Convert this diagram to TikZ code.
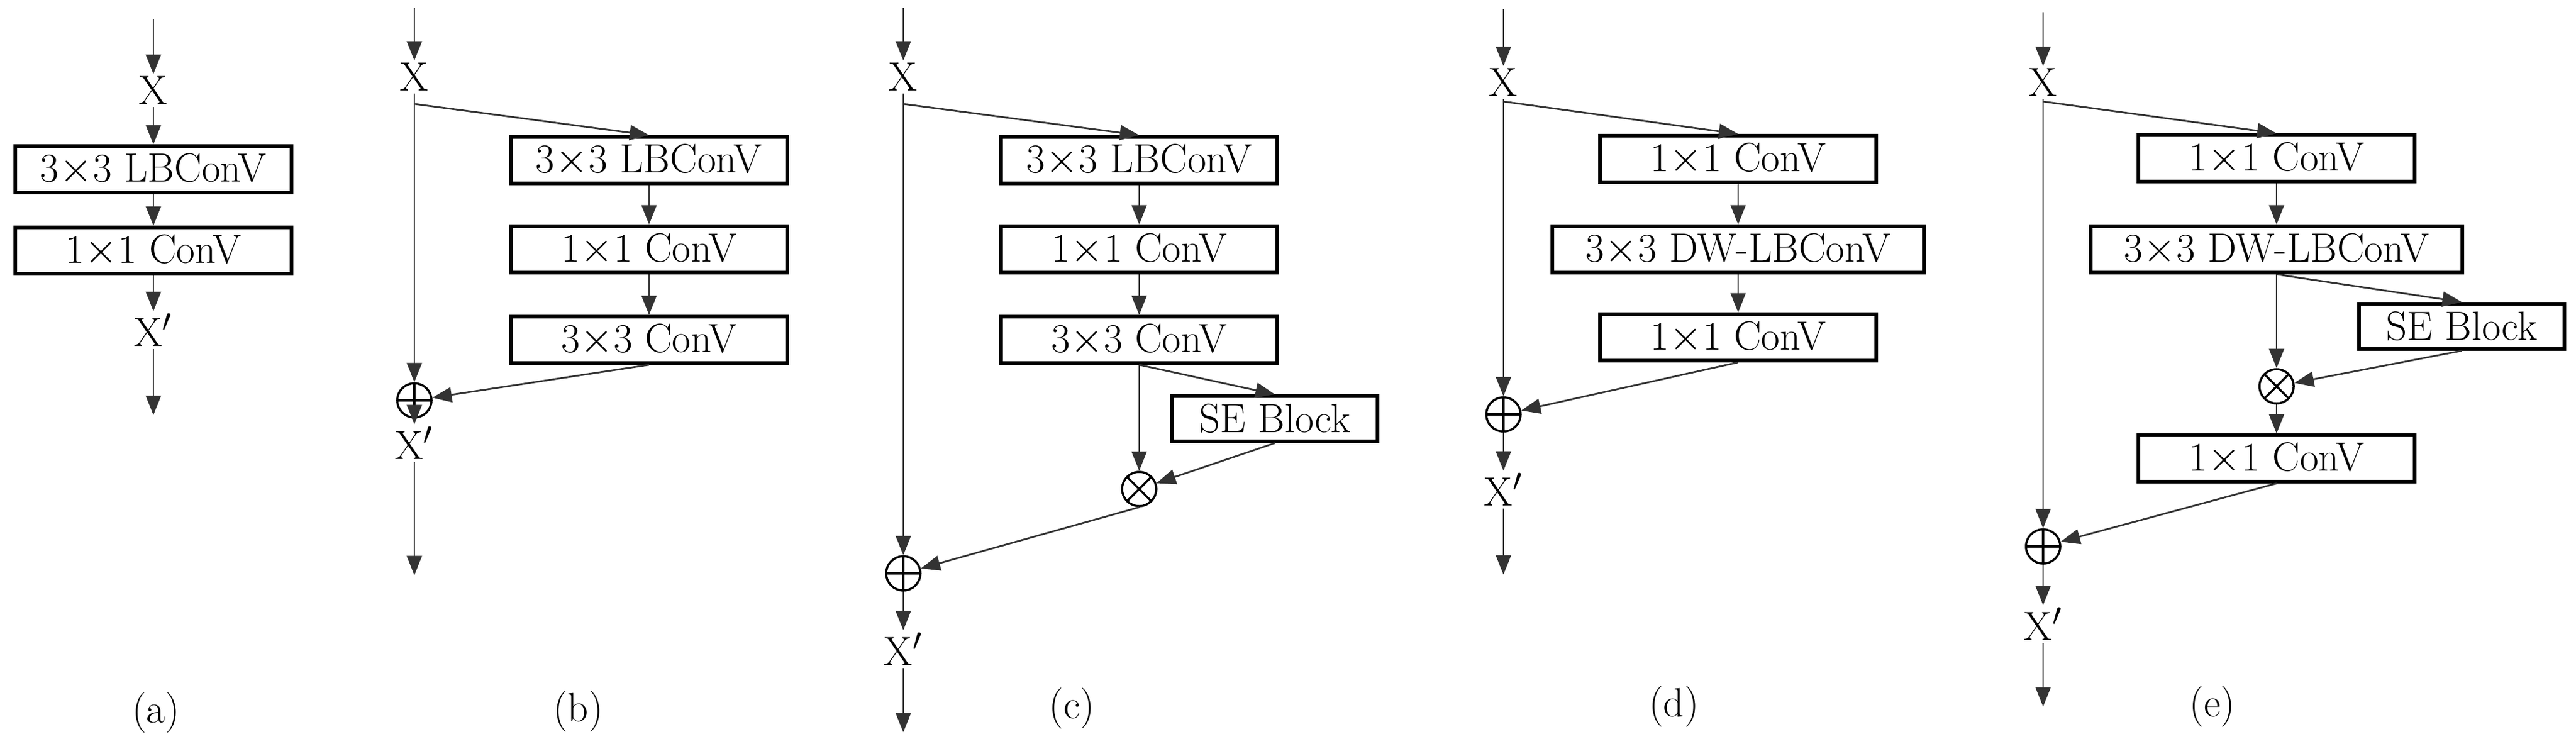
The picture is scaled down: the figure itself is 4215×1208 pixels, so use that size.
\documentclass[tikz,border=0pt]{standalone}
\usepackage{mathpazo}
\usetikzlibrary{arrows.meta}
\begin{document}
\begin{tikzpicture}[x=0.01cm,y=-0.01cm,
  every node/.style={font=\fontsize{19}{22}\selectfont},
  ln/.style={line width=0.8pt,black!80},
  ar/.style={ln,-{Triangle[length=9pt,width=7pt]}},
  box/.style={draw,line width=1.6pt,minimum width=4.52cm,minimum height=0.76cm,inner sep=0pt},
  wbox/.style={box,minimum width=6.08cm},
  sebox/.style={box,minimum width=3.36cm,minimum height=0.74cm},
  lab/.style={inner sep=1pt},
  opl/.style={circle,draw,line width=1pt,minimum size=0.56cm,inner sep=0pt,
    path picture={\draw[line width=1pt] (path picture bounding box.north)--(path picture bounding box.south)
      (path picture bounding box.west)--(path picture bounding box.east);}},
  otm/.style={circle,draw,line width=1pt,minimum size=0.56cm,inner sep=0pt,
    path picture={\draw[line width=1pt] (path picture bounding box.north west)--(path picture bounding box.south east)
      (path picture bounding box.south west)--(path picture bounding box.north east);}}]
\useasboundingbox (0,0) rectangle (4215,1208);
% (a)
\coordinate (at) at (251,31);
\node[lab] (ax) at (251,148) {X};
\node[box] (a1) at (251,277) {3$\times$3 LBConV};
\node[box] (a2) at (251,410) {1$\times$1 ConV};
\node[lab] (axp) at (251,540) {X$'$};
\coordinate (ae) at (251,679);
\node (al) at (255,1166) {(a)};
\draw[ar] (at)--(ax); \draw[ar] (ax)--(a1); \draw[ar] (a1)--(a2); \draw[ar] (a2)--(axp); \draw[ar] (axp)--(ae);
% (b)
\coordinate (bt) at (678,13);
\node[lab] (bx) at (678,126) {X};
\coordinate (bs) at (678,170);
\node[box] (b1) at (1062,262) {3$\times$3 LBConV};
\node[box] (b2) at (1062,408) {1$\times$1 ConV};
\node[box] (b3) at (1062,556) {3$\times$3 ConV};
\node[opl] (bo) at (678,655) {};
\node[lab] (bxp) at (678,725) {X$'$};
\coordinate (be) at (678,941);
\node (bl) at (946,1164) {(b)};
\draw[ar] (bt)--(bx); \draw[ln] (bx)--(bs); \draw[ar] (bs)--(b1.north); \draw[ar] (bs)--(bo);
\draw[ar] (b1)--(b2); \draw[ar] (b2)--(b3); \draw[ar] (b3.south)--(bo);
\draw[ar] (bo)--(bxp); \draw[ar] (bxp)--(be);
% (c)
\coordinate (ct) at (1478,13);
\node[lab] (cx) at (1478,126) {X};
\coordinate (cs) at (1478,170);
\node[box] (c1) at (1864,262) {3$\times$3 LBConV};
\node[box] (c2) at (1864,408) {1$\times$1 ConV};
\node[box] (c3) at (1864,556) {3$\times$3 ConV};
\node[sebox] (cse) at (2086,685) {SE Block};
\node[otm] (cot) at (1864,800) {};
\node[opl] (co) at (1478,938) {};
\node[lab] (cxp) at (1478,1062) {X$'$};
\coordinate (ce) at (1478,1198);
\node (cl) at (1754,1159) {(c)};
\draw[ar] (ct)--(cx); \draw[ln] (cx)--(cs); \draw[ar] (cs)--(c1.north); \draw[ar] (cs)--(co);
\draw[ar] (c1)--(c2); \draw[ar] (c2)--(c3); \draw[ar] (c3.south)--(cse.north); \draw[ar] (c3.south)--(cot);
\draw[ar] (cse.south)--(cot); \draw[ar] (cot.south)--(co);
\draw[ar] (co)--(cxp); \draw[ar] (cxp)--(ce);
% (d)
\coordinate (dt) at (2460,15);
\node[lab] (dx) at (2460,135) {X};
\coordinate (ds) at (2460,166);
\node[box] (d1) at (2844,260) {1$\times$1 ConV};
\node[wbox] (d2) at (2844,408) {3$\times$3 DW-LBConV};
\node[box] (d3) at (2844,552) {1$\times$1 ConV};
\node[opl] (do) at (2460,678) {};
\node[lab] (dxp) at (2460,801) {X$'$};
\coordinate (de) at (2460,940);
\node (dl) at (2739,1156) {(d)};
\draw[ar] (dt)--(dx); \draw[ln] (dx)--(ds); \draw[ar] (ds)--(d1.north); \draw[ar] (ds)--(do);
\draw[ar] (d1)--(d2); \draw[ar] (d2)--(d3); \draw[ar] (d3.south)--(do);
\draw[ar] (do)--(dxp); \draw[ar] (dxp)--(de);
% (e)
\coordinate (et) at (3343,20);
\node[lab] (ex) at (3343,135) {X};
\coordinate (es) at (3343,166);
\node[box] (e1) at (3725,259) {1$\times$1 ConV};
\node[wbox] (e2) at (3725,408) {3$\times$3 DW-LBConV};
\node[sebox] (ese) at (4028,534) {SE Block};
\node[otm] (eot) at (3725,632) {};
\node[box] (e3) at (3725,750) {1$\times$1 ConV};
\node[opl] (eo) at (3343,894) {};
\node[lab] (exp) at (3343,1021) {X$'$};
\coordinate (ee) at (3343,1156);
\node (el) at (3620,1156) {(e)};
\draw[ar] (et)--(ex); \draw[ln] (ex)--(es); \draw[ar] (es)--(e1.north); \draw[ar] (es)--(eo);
\draw[ar] (e1)--(e2); \draw[ar] (e2.south)--(ese.north); \draw[ar] (e2.south)--(eot);
\draw[ar] (ese.south)--(eot); \draw[ar] (eot)--(e3); \draw[ar] (e3.south)--(eo);
\draw[ar] (eo)--(exp); \draw[ar] (exp)--(ee);
\end{tikzpicture}
\end{document}
